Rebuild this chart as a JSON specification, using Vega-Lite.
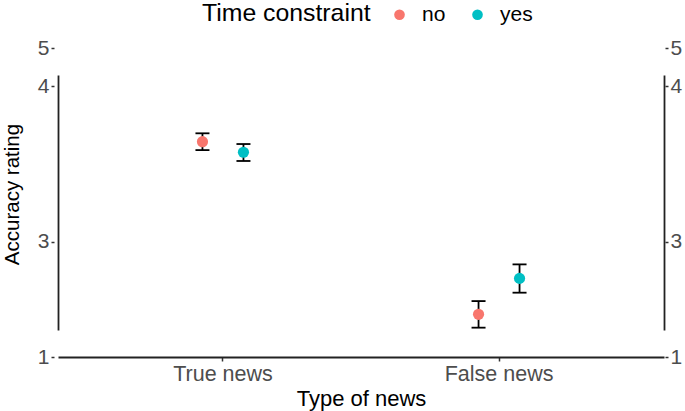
{
  "$schema": "https://vega.github.io/schema/vega-lite/v6.json",
  "width": 606,
  "height": 309,
  "autosize": {"type": "none"},
  "padding": {"left": 58, "top": 48, "right": 21, "bottom": 54},
  "background": "white",
  "config": {"font": "Liberation Sans", "view": {"stroke": null}, "axis": {"grid": false}},
  "data": {"values": [
    {"news": "True news", "time": "no", "mean": 3.642, "lower": 3.588, "upper": 3.696},
    {"news": "True news", "time": "yes", "mean": 3.574, "lower": 3.518, "upper": 3.627},
    {"news": "False news", "time": "no", "mean": 2.532, "lower": 2.446, "upper": 2.617},
    {"news": "False news", "time": "yes", "mean": 2.763, "lower": 2.671, "upper": 2.853}
  ]},
  "layer": [
    {
      "encoding": {
        "x": {"field": "news", "type": "nominal", "sort": ["True news", "False news"],
          "scale": {"domain": ["True news", "False news"], "paddingInner": 0.703, "paddingOuter": 0.449},
          "axis": {"domain": true, "domainColor": "#222222", "domainWidth": 1.8, "ticks": true, "tickSize": 4, "tickColor": "#333333", "tickWidth": 1.5,
            "labelFontSize": 21.5, "labelColor": "#4D4D4D", "labelPadding": 2, "labelAngle": 0,
            "title": "Type of news", "titleFontSize": 22, "titleColor": "black", "titleFontWeight": "normal", "titlePadding": 4}},
        "xOffset": {"field": "time", "type": "nominal", "scale": {"domain": ["no", "yes"], "paddingInner": 0, "paddingOuter": 0}}
      },
      "layer": [
        {"mark": {"type": "rule", "color": "black", "strokeWidth": 1.8},
          "encoding": {
            "y": {"field": "lower", "type": "quantitative",
              "scale": {"type": "linear", "domain": [1, 2.431, 4.071, 5], "range": [309, 282, 27, 0], "zero": false, "nice": false},
              "axis": {"orient": "left", "values": [1, 3, 4, 5], "format": "d", "domain": false, "ticks": true, "tickSize": 3, "tickColor": "#333333", "tickWidth": 1.5, "offset": 4,
                "labelFontSize": 21, "labelColor": "#4D4D4D", "labelPadding": 2, "labelFlush": false,
                "title": "Accuracy rating", "titleFontSize": 20.5, "titleColor": "black", "titleFontWeight": "normal", "titleY": 146, "titleX": -32, "titleBaseline": "bottom"}},
            "y2": {"field": "upper"}}},
        {"mark": {"type": "tick", "color": "black", "size": 14, "thickness": 1.8, "orient": "horizontal", "opacity": 1},
          "encoding": {"y": {"field": "lower", "type": "quantitative",
              "scale": {"type": "linear", "domain": [1, 2.431, 4.071, 5], "range": [309, 282, 27, 0], "zero": false, "nice": false}}}},
        {"mark": {"type": "tick", "color": "black", "size": 14, "thickness": 1.8, "orient": "horizontal", "opacity": 1},
          "encoding": {"y": {"field": "upper", "type": "quantitative",
              "scale": {"type": "linear", "domain": [1, 2.431, 4.071, 5], "range": [309, 282, 27, 0], "zero": false, "nice": false}}}},
        {"mark": {"type": "point", "filled": true, "size": 125, "opacity": 1},
          "encoding": {
            "y": {"field": "mean", "type": "quantitative",
              "scale": {"type": "linear", "domain": [1, 2.431, 4.071, 5], "range": [309, 282, 27, 0], "zero": false, "nice": false}},
            "color": {"field": "time", "type": "nominal",
              "scale": {"domain": ["no", "yes"], "range": ["#F8766D", "#00BFC4"]},
              "legend": {"orient": "none", "legendX": 144, "legendY": -44, "direction": "horizontal", "title": "Time constraint", "titleOrient": "left",
                "titleFontSize": 24.8, "titleFontWeight": "normal", "titleColor": "black", "titlePadding": 18,
                "labelFontSize": 21, "labelColor": "black", "labelOffset": 12, "symbolSize": 113, "symbolType": "circle", "symbolStrokeWidth": 0,
                "columnPadding": 21, "padding": 0}}}}
      ]
    },
    {"mark": {"type": "point", "opacity": 0},
      "encoding": {"y": {"field": "mean", "type": "quantitative",
        "scale": {"type": "linear", "domain": [1, 2.431, 4.071, 5], "range": [309, 282, 27, 0], "zero": false, "nice": false},
        "axis": {"orient": "right", "values": [1, 3, 4, 5], "format": "d", "domain": false, "ticks": true, "tickSize": 3, "tickColor": "#333333", "tickWidth": 1.5, "offset": 1,
          "labelFontSize": 21, "labelColor": "#4D4D4D", "labelPadding": 2, "labelFlush": false, "title": null}}}},
    {"mark": {"type": "point", "opacity": 0},
      "encoding": {"y": {"field": "mean", "type": "quantitative",
        "scale": {"type": "linear", "domain": [2.431, 4.071], "range": [282, 27], "zero": false, "nice": false},
        "axis": {"orient": "left", "domain": true, "domainColor": "#222222", "domainWidth": 1.8, "ticks": false, "labels": false, "title": null}}}},
    {"mark": {"type": "point", "opacity": 0},
      "encoding": {"y": {"field": "mean", "type": "quantitative",
        "scale": {"type": "linear", "domain": [2.431, 4.071], "range": [282, 27], "zero": false, "nice": false},
        "axis": {"orient": "right", "domain": true, "domainColor": "#222222", "domainWidth": 1.8, "ticks": false, "labels": false, "title": null}}}}
  ],
  "resolve": {"scale": {"y": "independent"}}
}
